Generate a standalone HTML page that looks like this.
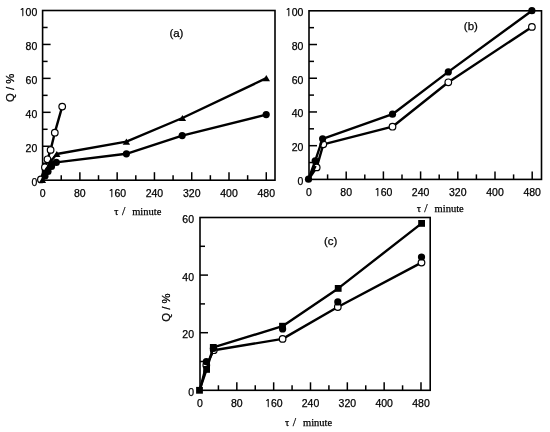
<!DOCTYPE html>
<html><head><meta charset="utf-8"><title>Release profiles</title>
<style>
html,body{margin:0;padding:0;background:#fff;}
body{width:550px;height:432px;overflow:hidden;}
svg{display:block;}
text{stroke:#000;stroke-width:0.25px;}
.t{font-family:"Liberation Sans", Arial, sans-serif;font-size:10.5px;fill:#000;}
.one{font-family:"NanumGothic","Liberation Sans", Arial, sans-serif;}
.q{font-family:"Liberation Sans", Arial, sans-serif;font-size:11.3px;fill:#000;}
.p{font-family:"Liberation Sans", Arial, sans-serif;font-size:11.5px;fill:#000;}
.s{font-family:"Liberation Serif", "Times New Roman", serif;font-size:10.5px;fill:#000;}
.s2{font-family:"Liberation Serif", "Times New Roman", serif;font-size:12px;fill:#000;}
.s3{font-family:"Liberation Serif", "Times New Roman", serif;font-size:10.5px;fill:#000;}
</style></head>
<body>
<svg width="550" height="432" viewBox="0 0 550 432">
<rect x="42.6" y="10.5" width="232.40" height="169.70" fill="none" stroke="#000" stroke-width="1.6"/>
<line x1="61.24" y1="180.2" x2="61.24" y2="175.2" stroke="#000" stroke-width="1.5"/>
<line x1="79.88" y1="180.2" x2="79.88" y2="172.2" stroke="#000" stroke-width="1.5"/>
<line x1="98.52" y1="180.2" x2="98.52" y2="175.2" stroke="#000" stroke-width="1.5"/>
<line x1="117.16" y1="180.2" x2="117.16" y2="172.2" stroke="#000" stroke-width="1.5"/>
<line x1="135.80" y1="180.2" x2="135.80" y2="175.2" stroke="#000" stroke-width="1.5"/>
<line x1="154.44" y1="180.2" x2="154.44" y2="172.2" stroke="#000" stroke-width="1.5"/>
<line x1="173.08" y1="180.2" x2="173.08" y2="175.2" stroke="#000" stroke-width="1.5"/>
<line x1="191.72" y1="180.2" x2="191.72" y2="172.2" stroke="#000" stroke-width="1.5"/>
<line x1="210.36" y1="180.2" x2="210.36" y2="175.2" stroke="#000" stroke-width="1.5"/>
<line x1="229.00" y1="180.2" x2="229.00" y2="172.2" stroke="#000" stroke-width="1.5"/>
<line x1="247.64" y1="180.2" x2="247.64" y2="175.2" stroke="#000" stroke-width="1.5"/>
<line x1="266.28" y1="180.2" x2="266.28" y2="172.2" stroke="#000" stroke-width="1.5"/>
<text x="42.60" y="197.0" text-anchor="middle" class="t">0</text>
<text x="79.88" y="197.0" text-anchor="middle" class="t">80</text>
<text x="117.16" y="197.0" text-anchor="middle" class="t"><tspan class="one">1</tspan>60</text>
<text x="154.44" y="197.0" text-anchor="middle" class="t">240</text>
<text x="191.72" y="197.0" text-anchor="middle" class="t">320</text>
<text x="229.00" y="197.0" text-anchor="middle" class="t">400</text>
<text x="266.28" y="197.0" text-anchor="middle" class="t">480</text>
<text x="37.3" y="185.70" text-anchor="end" class="t">0</text>
<line x1="42.6" y1="163.23" x2="47.6" y2="163.23" stroke="#000" stroke-width="1.5"/>
<line x1="42.6" y1="146.26" x2="50.6" y2="146.26" stroke="#000" stroke-width="1.5"/>
<text x="37.3" y="151.76" text-anchor="end" class="t">20</text>
<line x1="42.6" y1="129.29" x2="47.6" y2="129.29" stroke="#000" stroke-width="1.5"/>
<line x1="42.6" y1="112.32" x2="50.6" y2="112.32" stroke="#000" stroke-width="1.5"/>
<text x="37.3" y="117.82" text-anchor="end" class="t">40</text>
<line x1="42.6" y1="95.35" x2="47.6" y2="95.35" stroke="#000" stroke-width="1.5"/>
<line x1="42.6" y1="78.38" x2="50.6" y2="78.38" stroke="#000" stroke-width="1.5"/>
<text x="37.3" y="83.88" text-anchor="end" class="t">60</text>
<line x1="42.6" y1="61.41" x2="47.6" y2="61.41" stroke="#000" stroke-width="1.5"/>
<line x1="42.6" y1="44.44" x2="50.6" y2="44.44" stroke="#000" stroke-width="1.5"/>
<text x="37.3" y="49.94" text-anchor="end" class="t">80</text>
<line x1="42.6" y1="27.47" x2="47.6" y2="27.47" stroke="#000" stroke-width="1.5"/>
<text x="37.3" y="16.00" text-anchor="end" class="t"><tspan class="one">1</tspan>00</text>
<polyline points="40.90,179.40 44.90,167.30 47.50,159.30 50.60,149.90 54.80,132.70 62.20,106.60" fill="none" stroke="#000" stroke-width="2.4" stroke-linejoin="round"/>
<circle cx="40.90" cy="179.40" r="3.3" fill="#fff" stroke="#000" stroke-width="1.2"/>
<circle cx="44.90" cy="167.30" r="3.3" fill="#fff" stroke="#000" stroke-width="1.2"/>
<circle cx="47.50" cy="159.30" r="3.3" fill="#fff" stroke="#000" stroke-width="1.2"/>
<circle cx="50.60" cy="149.90" r="3.3" fill="#fff" stroke="#000" stroke-width="1.2"/>
<circle cx="54.80" cy="132.70" r="3.3" fill="#fff" stroke="#000" stroke-width="1.2"/>
<circle cx="62.20" cy="106.60" r="3.3" fill="#fff" stroke="#000" stroke-width="1.2"/>
<polyline points="42.60,180.00 45.00,176.00 48.00,171.50 51.50,166.50 56.30,162.40 126.40,153.80 182.20,135.60 266.20,114.60" fill="none" stroke="#000" stroke-width="2.4" stroke-linejoin="round"/>
<circle cx="45.00" cy="176.00" r="3.6" fill="#000"/>
<circle cx="48.00" cy="171.50" r="3.6" fill="#000"/>
<circle cx="51.50" cy="166.50" r="3.6" fill="#000"/>
<circle cx="56.30" cy="162.40" r="3.6" fill="#000"/>
<circle cx="126.40" cy="153.80" r="3.6" fill="#000"/>
<circle cx="182.20" cy="135.60" r="3.6" fill="#000"/>
<circle cx="266.20" cy="114.60" r="3.6" fill="#000"/>
<polyline points="42.40,180.00 46.50,169.50 51.00,161.00 56.80,154.00 126.40,141.60 182.40,118.00 266.30,78.20" fill="none" stroke="#000" stroke-width="2.4" stroke-linejoin="round"/>
<polygon points="38.70,183.10 46.10,183.10 42.40,176.90" fill="#000"/>
<polygon points="42.80,172.60 50.20,172.60 46.50,166.40" fill="#000"/>
<polygon points="47.30,164.10 54.70,164.10 51.00,157.90" fill="#000"/>
<polygon points="53.10,157.10 60.50,157.10 56.80,150.90" fill="#000"/>
<polygon points="122.70,144.70 130.10,144.70 126.40,138.50" fill="#000"/>
<polygon points="178.70,121.10 186.10,121.10 182.40,114.90" fill="#000"/>
<polygon points="262.60,81.30 270.00,81.30 266.30,75.10" fill="#000"/>
<rect x="309.0" y="10.8" width="232.50" height="168.60" fill="none" stroke="#000" stroke-width="1.6"/>
<line x1="327.60" y1="179.4" x2="327.60" y2="174.4" stroke="#000" stroke-width="1.5"/>
<line x1="346.20" y1="179.4" x2="346.20" y2="171.4" stroke="#000" stroke-width="1.5"/>
<line x1="364.80" y1="179.4" x2="364.80" y2="174.4" stroke="#000" stroke-width="1.5"/>
<line x1="383.40" y1="179.4" x2="383.40" y2="171.4" stroke="#000" stroke-width="1.5"/>
<line x1="402.00" y1="179.4" x2="402.00" y2="174.4" stroke="#000" stroke-width="1.5"/>
<line x1="420.60" y1="179.4" x2="420.60" y2="171.4" stroke="#000" stroke-width="1.5"/>
<line x1="439.20" y1="179.4" x2="439.20" y2="174.4" stroke="#000" stroke-width="1.5"/>
<line x1="457.80" y1="179.4" x2="457.80" y2="171.4" stroke="#000" stroke-width="1.5"/>
<line x1="476.40" y1="179.4" x2="476.40" y2="174.4" stroke="#000" stroke-width="1.5"/>
<line x1="495.00" y1="179.4" x2="495.00" y2="171.4" stroke="#000" stroke-width="1.5"/>
<line x1="513.60" y1="179.4" x2="513.60" y2="174.4" stroke="#000" stroke-width="1.5"/>
<line x1="532.20" y1="179.4" x2="532.20" y2="171.4" stroke="#000" stroke-width="1.5"/>
<text x="309.00" y="195.8" text-anchor="middle" class="t">0</text>
<text x="346.20" y="195.8" text-anchor="middle" class="t">80</text>
<text x="383.40" y="195.8" text-anchor="middle" class="t"><tspan class="one">1</tspan>60</text>
<text x="420.60" y="195.8" text-anchor="middle" class="t">240</text>
<text x="457.80" y="195.8" text-anchor="middle" class="t">320</text>
<text x="495.00" y="195.8" text-anchor="middle" class="t">400</text>
<text x="532.20" y="195.8" text-anchor="middle" class="t">480</text>
<text x="303.4" y="184.90" text-anchor="end" class="t">0</text>
<line x1="309.0" y1="162.54" x2="314.0" y2="162.54" stroke="#000" stroke-width="1.5"/>
<line x1="309.0" y1="145.68" x2="317.0" y2="145.68" stroke="#000" stroke-width="1.5"/>
<text x="303.4" y="151.18" text-anchor="end" class="t">20</text>
<line x1="309.0" y1="128.82" x2="314.0" y2="128.82" stroke="#000" stroke-width="1.5"/>
<line x1="309.0" y1="111.96" x2="317.0" y2="111.96" stroke="#000" stroke-width="1.5"/>
<text x="303.4" y="117.46" text-anchor="end" class="t">40</text>
<line x1="309.0" y1="95.10" x2="314.0" y2="95.10" stroke="#000" stroke-width="1.5"/>
<line x1="309.0" y1="78.24" x2="317.0" y2="78.24" stroke="#000" stroke-width="1.5"/>
<text x="303.4" y="83.74" text-anchor="end" class="t">60</text>
<line x1="309.0" y1="61.38" x2="314.0" y2="61.38" stroke="#000" stroke-width="1.5"/>
<line x1="309.0" y1="44.52" x2="317.0" y2="44.52" stroke="#000" stroke-width="1.5"/>
<text x="303.4" y="50.02" text-anchor="end" class="t">80</text>
<line x1="309.0" y1="27.66" x2="314.0" y2="27.66" stroke="#000" stroke-width="1.5"/>
<text x="303.4" y="16.30" text-anchor="end" class="t"><tspan class="one">1</tspan>00</text>
<polyline points="308.80,179.20 316.70,167.40 323.30,144.30 392.50,126.70 448.30,82.30 531.90,26.90" fill="none" stroke="#000" stroke-width="2.4" stroke-linejoin="round"/>
<circle cx="316.70" cy="167.40" r="3.3" fill="#fff" stroke="#000" stroke-width="1.2"/>
<circle cx="323.30" cy="144.30" r="3.3" fill="#fff" stroke="#000" stroke-width="1.2"/>
<circle cx="392.50" cy="126.70" r="3.3" fill="#fff" stroke="#000" stroke-width="1.2"/>
<circle cx="448.30" cy="82.30" r="3.3" fill="#fff" stroke="#000" stroke-width="1.2"/>
<circle cx="531.90" cy="26.90" r="3.3" fill="#fff" stroke="#000" stroke-width="1.2"/>
<polyline points="308.50,179.20 315.20,160.80 322.60,138.80 392.50,114.20 448.30,71.90 531.90,10.70" fill="none" stroke="#000" stroke-width="2.4" stroke-linejoin="round"/>
<circle cx="308.50" cy="179.20" r="3.6" fill="#000"/>
<circle cx="315.20" cy="160.80" r="3.6" fill="#000"/>
<circle cx="322.60" cy="138.80" r="3.6" fill="#000"/>
<circle cx="392.50" cy="114.20" r="3.6" fill="#000"/>
<circle cx="448.30" cy="71.90" r="3.6" fill="#000"/>
<circle cx="531.90" cy="10.70" r="3.6" fill="#000"/>
<polyline points="308.60,179.00 315.60,166.00" fill="none" stroke="#000" stroke-width="2.4" stroke-linejoin="round"/>
<rect x="200.0" y="217.5" width="230.20" height="172.80" fill="none" stroke="#000" stroke-width="1.6"/>
<line x1="218.42" y1="390.3" x2="218.42" y2="385.3" stroke="#000" stroke-width="1.5"/>
<line x1="236.83" y1="390.3" x2="236.83" y2="382.3" stroke="#000" stroke-width="1.5"/>
<line x1="255.25" y1="390.3" x2="255.25" y2="385.3" stroke="#000" stroke-width="1.5"/>
<line x1="273.66" y1="390.3" x2="273.66" y2="382.3" stroke="#000" stroke-width="1.5"/>
<line x1="292.08" y1="390.3" x2="292.08" y2="385.3" stroke="#000" stroke-width="1.5"/>
<line x1="310.50" y1="390.3" x2="310.50" y2="382.3" stroke="#000" stroke-width="1.5"/>
<line x1="328.91" y1="390.3" x2="328.91" y2="385.3" stroke="#000" stroke-width="1.5"/>
<line x1="347.33" y1="390.3" x2="347.33" y2="382.3" stroke="#000" stroke-width="1.5"/>
<line x1="365.74" y1="390.3" x2="365.74" y2="385.3" stroke="#000" stroke-width="1.5"/>
<line x1="384.16" y1="390.3" x2="384.16" y2="382.3" stroke="#000" stroke-width="1.5"/>
<line x1="402.58" y1="390.3" x2="402.58" y2="385.3" stroke="#000" stroke-width="1.5"/>
<line x1="420.99" y1="390.3" x2="420.99" y2="382.3" stroke="#000" stroke-width="1.5"/>
<text x="200.00" y="406.7" text-anchor="middle" class="t">0</text>
<text x="236.83" y="406.7" text-anchor="middle" class="t">80</text>
<text x="273.66" y="406.7" text-anchor="middle" class="t"><tspan class="one">1</tspan>60</text>
<text x="310.50" y="406.7" text-anchor="middle" class="t">240</text>
<text x="347.33" y="406.7" text-anchor="middle" class="t">320</text>
<text x="384.16" y="406.7" text-anchor="middle" class="t">400</text>
<text x="420.99" y="406.7" text-anchor="middle" class="t">480</text>
<text x="194.0" y="395.80" text-anchor="end" class="t">0</text>
<line x1="200.0" y1="361.50" x2="205.0" y2="361.50" stroke="#000" stroke-width="1.5"/>
<line x1="200.0" y1="332.70" x2="208.0" y2="332.70" stroke="#000" stroke-width="1.5"/>
<text x="194.0" y="338.20" text-anchor="end" class="t">20</text>
<line x1="200.0" y1="303.90" x2="205.0" y2="303.90" stroke="#000" stroke-width="1.5"/>
<line x1="200.0" y1="275.10" x2="208.0" y2="275.10" stroke="#000" stroke-width="1.5"/>
<text x="194.0" y="280.60" text-anchor="end" class="t">40</text>
<line x1="200.0" y1="246.30" x2="205.0" y2="246.30" stroke="#000" stroke-width="1.5"/>
<text x="194.0" y="223.00" text-anchor="end" class="t">60</text>
<polyline points="199.80,390.00 206.30,365.20 213.80,350.20 282.60,338.90 337.80,307.00 421.50,262.60" fill="none" stroke="#000" stroke-width="2.4" stroke-linejoin="round"/>
<circle cx="206.30" cy="365.20" r="3.3" fill="#fff" stroke="#000" stroke-width="1.2"/>
<circle cx="213.80" cy="350.20" r="3.3" fill="#fff" stroke="#000" stroke-width="1.2"/>
<circle cx="282.60" cy="338.90" r="3.3" fill="#fff" stroke="#000" stroke-width="1.2"/>
<circle cx="337.80" cy="307.00" r="3.3" fill="#fff" stroke="#000" stroke-width="1.2"/>
<circle cx="421.50" cy="262.60" r="3.3" fill="#fff" stroke="#000" stroke-width="1.2"/>
<circle cx="206.30" cy="361.70" r="3.6" fill="#000"/>
<circle cx="213.40" cy="348.50" r="3.6" fill="#000"/>
<circle cx="282.60" cy="328.90" r="3.6" fill="#000"/>
<circle cx="337.80" cy="301.90" r="3.6" fill="#000"/>
<circle cx="421.50" cy="257.00" r="3.6" fill="#000"/>
<polyline points="199.50,390.30 206.60,369.40 213.30,347.40 282.50,326.20 338.20,288.40 421.60,223.40" fill="none" stroke="#000" stroke-width="2.4" stroke-linejoin="round"/>
<rect x="196.10" y="386.90" width="6.8" height="6.8" fill="#000"/>
<rect x="203.20" y="366.00" width="6.8" height="6.8" fill="#000"/>
<rect x="209.90" y="344.00" width="6.8" height="6.8" fill="#000"/>
<rect x="279.10" y="322.80" width="6.8" height="6.8" fill="#000"/>
<rect x="334.80" y="285.00" width="6.8" height="6.8" fill="#000"/>
<rect x="418.20" y="220.00" width="6.8" height="6.8" fill="#000"/>
<text transform="translate(14.0,87.9) rotate(-90)" text-anchor="middle" class="q">Q / %</text>
<text transform="translate(169.6,307.6) rotate(-90)" text-anchor="middle" class="q">Q / %</text>
<text x="114.3" y="214.7" class="s3">τ</text>
<text x="121.9" y="214.7" class="s2">/</text>
<text x="132.2" y="214.7" class="s">minute</text>
<text x="416.7" y="211.9" class="s3">τ</text>
<text x="424.29999999999995" y="211.9" class="s2">/</text>
<text x="434.59999999999997" y="211.9" class="s">minute</text>
<text x="285.1" y="425.5" class="s3">τ</text>
<text x="292.7" y="425.5" class="s2">/</text>
<text x="303.0" y="425.5" class="s">minute</text>
<text x="169.4" y="37.2" class="p">(a)</text>
<text x="463.8" y="30.0" class="p">(b)</text>
<text x="324.0" y="245.2" class="p">(c)</text>
</svg>
</body></html>
